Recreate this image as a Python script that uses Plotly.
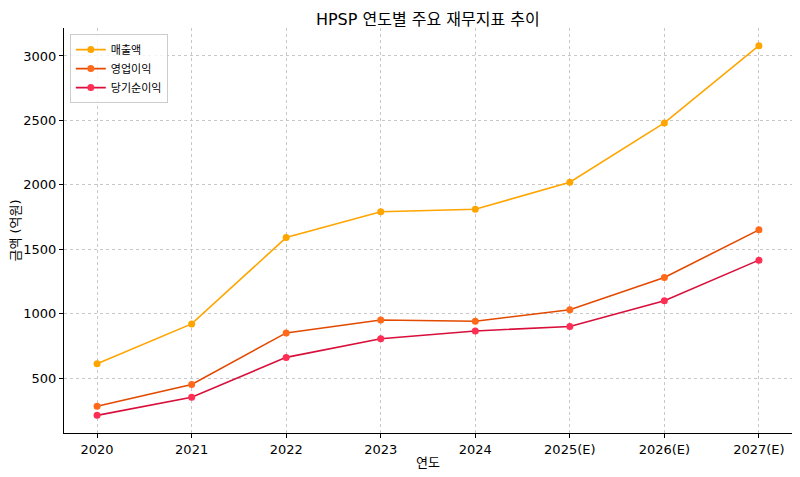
import plotly.graph_objects as go

years = ["2020", "2021", "2022", "2023", "2024", "2025(E)", "2026(E)", "2027(E)"]
revenue = [610, 920, 1590, 1790, 1810, 2020, 2480, 3080]
operating_profit = [280, 450, 850, 950, 940, 1030, 1280, 1650]
net_income = [210, 350, 660, 805, 865, 900, 1100, 1415]
y_ticks = [500, 1000, 1500, 2000, 2500, 3000]

FONT = "DejaVu Sans, Noto Sans CJK KR, sans-serif"

series = [
    ("매출액", revenue, "#FFA500", "#FFA500"),
    ("영업이익", operating_profit, "#E34A00", "#FF6A1A"),
    ("당기순이익", net_income, "#D80F3A", "#FF2E55"),
]

fig = go.Figure()
for name, values, line_color, marker_color in series:
    fig.add_trace(go.Scatter(
        x=years,
        y=values,
        name=name,
        mode="lines+markers",
        line=dict(color=line_color, width=1.6),
        marker=dict(color=marker_color, size=7),
    ))

# page body has an 8px margin, so the figure is a bit smaller than the window
fig.update_layout(
    width=792,
    height=469,
    margin=dict(l=56, r=8, t=20, b=44),
    paper_bgcolor="white",
    plot_bgcolor="white",
    font=dict(family=FONT, size=13, color="black"),
    title=dict(text="HPSP 연도별 주요 재무지표 추이", x=0.53, xref="container", xanchor="center",
               y=0.976, yanchor="middle", font=dict(size=16)),
    showlegend=True,
    legend=dict(
        x=0.008, y=0.985, xanchor="left", yanchor="top",
        bgcolor="rgba(255,255,255,0.8)", bordercolor="#cccccc", borderwidth=1,
        font=dict(size=11), tracegroupgap=0,
    ),
    xaxis=dict(
        title=dict(text="연도", font=dict(size=13), standoff=2),
        automargin=False,
        range=[-0.35, 7.35],
        showline=True, linecolor="black", linewidth=1.2,
        ticks="outside", ticklen=4, tickcolor="black",
        showgrid=True, gridcolor="#c8c8c8", griddash="dot", gridwidth=1,
        zeroline=False,
    ),
    yaxis=dict(
        title=dict(text="금액 (억원)", font=dict(size=13), standoff=4),
        automargin=False,
        range=[73, 3217],
        tickvals=y_ticks,
        showline=True, linecolor="black", linewidth=1.2,
        ticks="outside", ticklen=4, tickcolor="black",
        showgrid=True, gridcolor="#c8c8c8", griddash="dot", gridwidth=1,
        zeroline=False,
    ),
)

fig.write_html("out.html")
